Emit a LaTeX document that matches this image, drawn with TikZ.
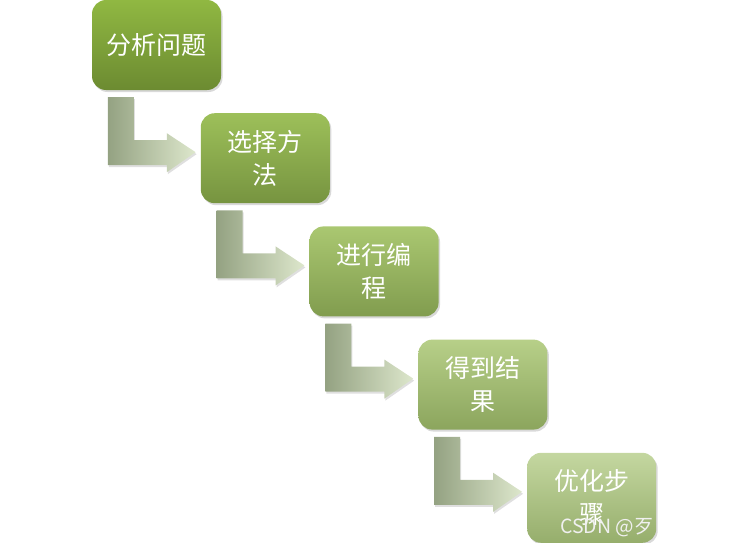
\documentclass[tikz,border=0pt]{standalone}
\usepackage{fontspec}
\setmainfont{Noto Sans CJK SC}
\usepackage{tikz}
\usetikzlibrary{calc,shadows}
\usepackage{xcolor}

\definecolor{boxtopA}{RGB}{144,184,66}
\definecolor{boxbotA}{RGB}{108,139,49}
\definecolor{boxtopE}{RGB}{196,215,160}
\definecolor{boxbotE}{RGB}{150,174,108}
\definecolor{arrowdark}{RGB}{148,162,130}
\definecolor{arrowlight}{RGB}{221,231,204}

\tikzset{
    stepnode/.style={rounded corners=14pt, minimum width=129pt, minimum height=90pt,
        inner sep=2pt, align=center, text=white, font=\fontsize{25}{33}\selectfont,
        drop shadow={opacity=0.3, shadow xshift=1.5pt, shadow yshift=-2pt}},
    bentarrow/.style={left color=arrowdark, right color=arrowlight,
        drop shadow={opacity=0.25, shadow xshift=1pt, shadow yshift=-2pt}}
}

\begin{document}
\begin{tikzpicture}[x=1pt, y=-1pt]
        \useasboundingbox (0,0) rectangle (749,543);

        % Steps (colours fade from box to box)
        \foreach \i/\txt in {1/分析问题, 2/{选择方\\法}, 3/{进行编\\程}, 4/{得到结\\果}, 5/{优化步\\骤}} {
            \pgfmathtruncatemacro{\p}{(\i-1)*25}
            \pgfmathsetmacro{\cx}{156.5+108.8*(\i-1)}
            \pgfmathsetmacro{\cy}{45+113.2*(\i-1)}
            \node[stepnode, top color=boxtopE!\p!boxtopA, bottom color=boxbotE!\p!boxbotA]
                (b\i) at (\cx,\cy) {\txt};
        }

        % Bent arrows: down from one box, then right into the next
        \foreach \i in {1,2,3,4} {
            \pgfmathtruncatemacro{\j}{\i+1}
            \shade[bentarrow] ($(b\i.south west)+(16,7)$) -- ($(b\i.south west)+(42,7)$)
                -- ($(b\i.south west)+(42,50)$) -- ($(b\i.south west)+(75,50)$)
                -- ($(b\i.south west)+(75,43)$) -- ($(b\j.west)+(-5,-6)$)
                -- ($(b\i.south west)+(75,82)$) -- ($(b\i.south west)+(75,75)$)
                -- ($(b\i.south west)+(16,75)$) -- cycle;
        }

        % Watermark
        \node[font=\fontsize{19.5}{19.5}\selectfont, text=white!88!gray] (mark) at (607,528) {CSDN @歹};
    \end{tikzpicture}
\end{document}
